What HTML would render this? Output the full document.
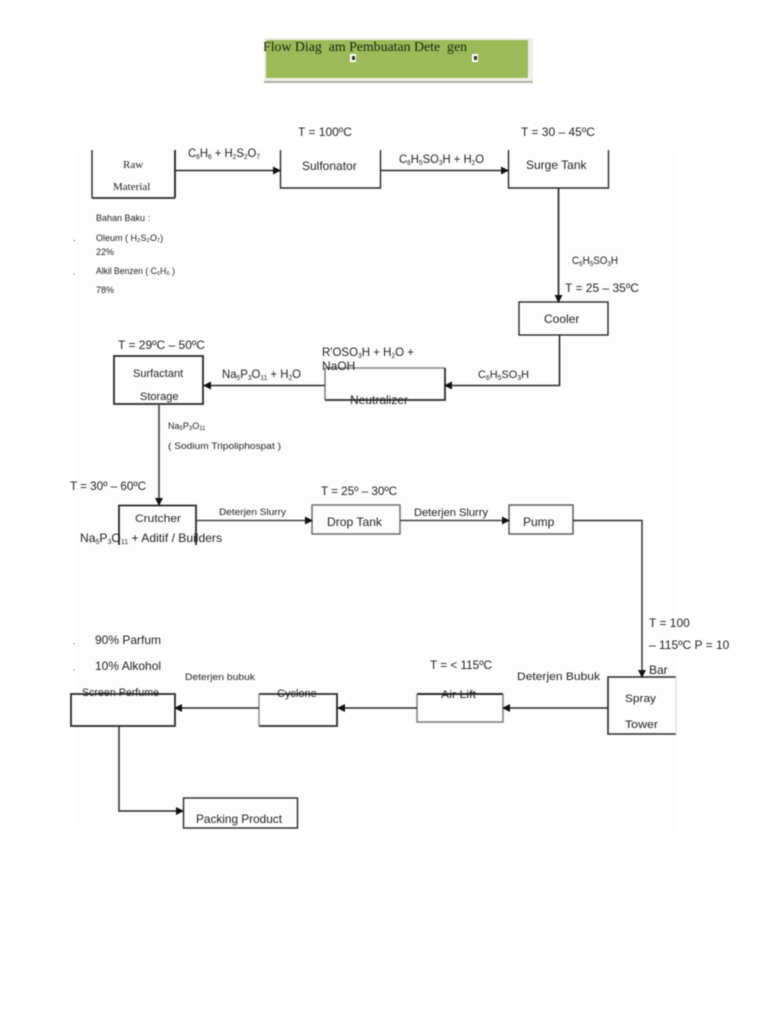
<!DOCTYPE html>
<html><head><meta charset="utf-8">
<style>html,body{margin:0;padding:0;background:#fff}svg{display:block;filter:blur(.45px)}
text{font-family:"Liberation Sans","DejaVu Sans",sans-serif;fill:#222;font-size:12px}
.s{font-size:9px}.m{font-size:11px}.f{font-family:"Liberation Serif",serif}
tspan.b{font-size:7px}
</style></head><body>
<svg width="768" height="1024" viewBox="0 0 768 1024" xmlns="http://www.w3.org/2000/svg">
<defs><marker id="a" markerWidth="8" markerHeight="8" refX="7" refY="4" orient="auto" markerUnits="userSpaceOnUse"><path d="M0,0L8,4L0,8Z" fill="#111"/></marker></defs>
<rect x="75" y="150" width="601" height="680" fill="#fdfdfd"/>
<!-- title -->
<rect x="264" y="38" width="269" height="43" fill="#eceee8"/>
<rect x="266" y="40" width="262" height="38" fill="#9bbb59"/>
<rect x="264" y="81" width="269" height="2" fill="#aeb0a2"/>
<text class="f" x="263" y="51" style="font-size:14px;fill:#1a2410" textLength="204" lengthAdjust="spacingAndGlyphs">Flow Diag&#160; am Pembuatan Dete&#160; gen</text>
<rect x="350" y="54" width="6" height="8" fill="#fff"/><rect x="472" y="54" width="6" height="8" fill="#fff"/>
<rect x="352" y="56" width="3" height="4" fill="#333"/><rect x="474" y="56" width="3" height="4" fill="#333"/>
<g fill="none" stroke="#2a2a2a" stroke-width="1.4">
<!-- raw -->
<path d="M92,150V198"/><path d="M92,198H175" stroke-width="1.7"/><path d="M175,150V198" stroke-width="1.9"/>
<!-- sulfonator -->
<path d="M280.500,150V188H380.500V150"/>
<!-- surge -->
<path d="M508.500,150V188H608.500V150"/>
<rect x="519" y="302" width="89" height="33"/>
<path d="M325,368H445" stroke="#888"/><path d="M325,368V400" stroke="#777"/><path d="M325,400H445V368" stroke-width="1.8"/>
<rect x="114" y="356" width="89" height="48" stroke-width="1.8"/>
<path d="M119,545V505.500H196V545" stroke-width="1.8"/>
<rect x="312" y="505" width="88" height="29" stroke="#666"/>
<rect x="509" y="505" width="64" height="29" stroke="#555"/>
<path d="M676,734H608V677H676" stroke-width="1.6"/><path d="M676,677V734" stroke="#ddd"/>
<path d="M417,694H503" stroke-width="1.9"/><path d="M417,694V722H503V694" stroke="#777"/>
<path d="M259,694H337V726H259" stroke-width="1.8"/><path d="M259,694V726" stroke="#888"/>
<rect x="71" y="694" width="104" height="32" stroke-width="1.8"/>
<rect x="183.500" y="798" width="114" height="30"/>
<!-- connectors -->
<path d="M175,170.500H280" marker-end="url(#a)"/>
<path d="M380,170.500H508" marker-end="url(#a)"/>
<path d="M558.500,188V302" marker-end="url(#a)" stroke-width="1.7"/>
<path d="M559.500,335V385.500H445" marker-end="url(#a)" stroke-width="1.6"/>
<path d="M325,385.500H204" marker-end="url(#a)" stroke-width="1.6"/>
<path d="M159,404V505" marker-end="url(#a)" stroke-width="1.8" stroke="#555"/>
<path d="M196,520.500H312" marker-end="url(#a)" stroke="#444"/>
<path d="M400,520.500H509" marker-end="url(#a)" stroke="#444"/>
<path d="M573,520.500H642V677" marker-end="url(#a)"/>
<path d="M608,708H503" marker-end="url(#a)" stroke-width="1.5"/>
<path d="M417,708H338" marker-end="url(#a)" stroke-width="1.5"/>
<path d="M259,708H175" marker-end="url(#a)" stroke-width="1.5"/>
<path d="M119,726V811H183" marker-end="url(#a)" stroke-width="1.5"/>
</g>
<!-- labels -->
<text x="298" y="136">T = 100ºC</text>
<text x="521" y="136">T = 30  – 45ºC</text>
<text class="f" x="123" y="168" style="font-size:11px">Raw</text>
<text class="f" x="113" y="190" style="font-size:11px">Material</text>
<text x="188" y="157" textLength="72" lengthAdjust="spacingAndGlyphs">C<tspan class="b" dy="2">6</tspan><tspan dy="-2">H</tspan><tspan class="b" dy="2">6</tspan><tspan dy="-2"> + H</tspan><tspan class="b" dy="2">2</tspan><tspan dy="-2">S</tspan><tspan class="b" dy="2">2</tspan><tspan dy="-2">O</tspan><tspan class="b" dy="2">7</tspan></text>
<text x="302" y="170">Sulfonator</text>
<text x="399" y="163" textLength="85" lengthAdjust="spacingAndGlyphs">C<tspan class="b" dy="2">6</tspan><tspan dy="-2">H</tspan><tspan class="b" dy="2">5</tspan><tspan dy="-2">SO</tspan><tspan class="b" dy="2">3</tspan><tspan dy="-2">H + H</tspan><tspan class="b" dy="2">2</tspan><tspan dy="-2">O</tspan></text>
<text x="526" y="169">Surge Tank</text>
<text class="s" x="96" y="221">Bahan Baku :</text>
<text class="s" x="73" y="241">.</text><text class="s" x="96" y="241">Oleum ( H₂S₂O₇)</text>
<text class="s" x="96" y="255">22%</text>
<text class="s" x="73" y="275">.</text><text class="s" x="96" y="274" textLength="79" lengthAdjust="spacingAndGlyphs">Alkil Benzen ( C₆H₆ )</text>
<text class="s" x="96" y="293">78%</text>
<text class="m" x="572" y="264" textLength="46" lengthAdjust="spacingAndGlyphs">C<tspan class="b" dy="2">6</tspan><tspan dy="-2">H</tspan><tspan class="b" dy="2">5</tspan><tspan dy="-2">SO</tspan><tspan class="b" dy="2">3</tspan><tspan dy="-2">H</tspan></text>
<text x="565" y="292">T = 25  – 35ºC</text>
<text x="544" y="323">Cooler</text>
<text x="118" y="349">T = 29ºC – 50ºC</text>
<text x="322" y="356" textLength="92" lengthAdjust="spacingAndGlyphs">R'OSO<tspan class="b" dy="2">3</tspan><tspan dy="-2">H + H</tspan><tspan class="b" dy="2">2</tspan><tspan dy="-2">O +</tspan></text>
<text x="322" y="370">NaOH</text>
<text x="350" y="404">Neutralizer</text>
<text x="222" y="378" textLength="79" lengthAdjust="spacingAndGlyphs">Na<tspan class="b" dy="2">5</tspan><tspan dy="-2">P</tspan><tspan class="b" dy="2">3</tspan><tspan dy="-2">O</tspan><tspan class="b" dy="2">11</tspan><tspan dy="-2"> + H</tspan><tspan class="b" dy="2">2</tspan><tspan dy="-2">O</tspan></text>
<text class="m" x="478" y="378" textLength="51" lengthAdjust="spacingAndGlyphs">C<tspan class="b" dy="2">6</tspan><tspan dy="-2">H</tspan><tspan class="b" dy="2">5</tspan><tspan dy="-2">SO</tspan><tspan class="b" dy="2">3</tspan><tspan dy="-2">H</tspan></text>
<text class="m" x="133" y="377">Surfactant</text>
<text class="m" x="140" y="400">Storage</text>
<text class="s" x="168" y="429">Na<tspan style="font-size:6px" dy="1">5</tspan><tspan dy="-1">P</tspan><tspan style="font-size:6px" dy="1">3</tspan><tspan dy="-1">O</tspan><tspan style="font-size:6px" dy="1">11</tspan></text>
<text class="s" x="168" y="449" textLength="113" lengthAdjust="spacingAndGlyphs">( Sodium Tripoliphospat )</text>
<text x="70" y="490" textLength="76" lengthAdjust="spacingAndGlyphs">T = 30º  – 60ºC</text>
<text x="321" y="495" textLength="76" lengthAdjust="spacingAndGlyphs">T = 25º  – 30ºC</text>
<text class="m" x="135" y="522" textLength="46" lengthAdjust="spacingAndGlyphs">Crutcher</text>
<text class="s" x="219" y="515" textLength="67" lengthAdjust="spacingAndGlyphs">Deterjen Slurry</text>
<text x="327" y="526" textLength="55" lengthAdjust="spacingAndGlyphs">Drop Tank</text>
<text class="m" x="414" y="516" textLength="74" lengthAdjust="spacingAndGlyphs">Deterjen Slurry</text>
<text x="523" y="526">Pump</text>
<text x="80" y="542" textLength="142" lengthAdjust="spacingAndGlyphs">Na<tspan class="b" dy="2">5</tspan><tspan dy="-2">P</tspan><tspan class="b" dy="2">3</tspan><tspan dy="-2">O</tspan><tspan class="b" dy="2">11</tspan><tspan dy="-2"> + Aditif / Builders</tspan></text>
<text x="649" y="627">T = 100</text>
<text x="649" y="649">– 115ºC P = 10</text>
<text x="649" y="674">Bar</text>
<text class="s" x="73" y="644">.</text><text x="95" y="644">90% Parfum</text>
<text class="s" x="73" y="670">.</text><text x="95" y="670">10% Alkohol</text>
<text x="430" y="669" textLength="62" lengthAdjust="spacingAndGlyphs">T = &lt; 115ºC</text>
<text class="m" x="517" y="680" textLength="83" lengthAdjust="spacingAndGlyphs">Deterjen Bubuk</text>
<text class="s" x="185" y="680" textLength="70" lengthAdjust="spacingAndGlyphs">Deterjen bubuk</text>
<text class="m" x="82" y="696" textLength="77" lengthAdjust="spacingAndGlyphs">Screen Perfume</text>
<text class="m" x="277" y="697">Cyclone</text>
<text class="m" x="441" y="698" textLength="35" lengthAdjust="spacingAndGlyphs">Air Lift</text>
<text class="m" x="625" y="702" textLength="31" lengthAdjust="spacingAndGlyphs">Spray</text>
<text class="m" x="625" y="728" textLength="33" lengthAdjust="spacingAndGlyphs">Tower</text>
<text x="196" y="823" textLength="86" lengthAdjust="spacingAndGlyphs">Packing Product</text>
</svg>
</body></html>
